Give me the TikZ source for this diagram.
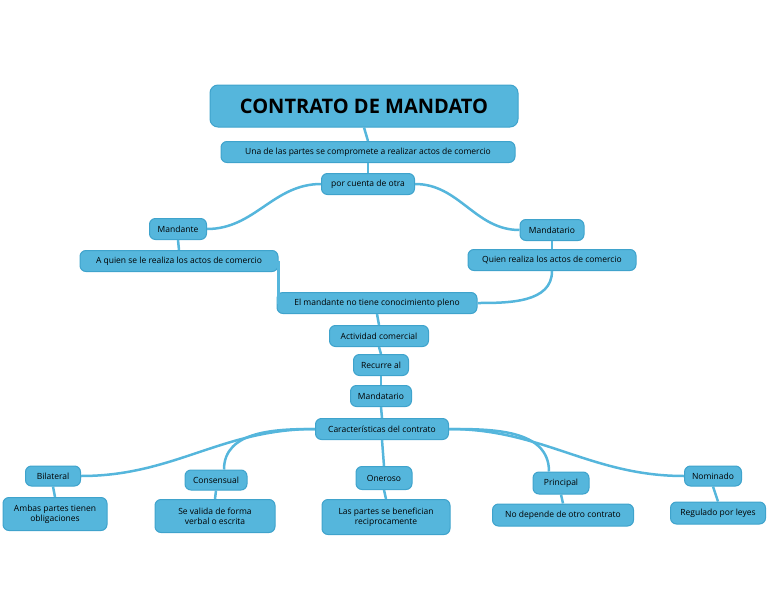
\documentclass[tikz,border=0pt]{standalone}
\usepackage{fontspec}
\setmainfont{Open Sans}
\definecolor{bx}{HTML}{55B6DC}
\definecolor{bd}{HTML}{3FA3CC}
\begin{document}
\begin{tikzpicture}[x=1pt,y=-1pt,
  bn/.style={draw=bd,fill=bx,rounded corners=6pt,line width=1pt,font=\fontsize{8.5}{10}\selectfont,inner xsep=6pt,minimum height=21pt,align=center},
  ln/.style={draw=bx,line width=2.5pt}]
\useasboundingbox (0,0) rectangle (768,594);
\node[bn,font=\fontsize{20}{22}\selectfont\bfseries,minimum width=308pt,minimum height=42pt,rounded corners=8pt] (t) at (364,106) {CONTRATO DE MANDATO};
\node[bn,minimum width=294pt] (u) at (368,152) {Una de las partes se compromete a realizar actos de comercio};
\node[bn,minimum width=93pt] (p) at (368,184) {por cuenta de otra};
\node[bn,minimum width=57pt] (ma) at (178,229) {Mandante};
\node[bn,minimum width=198pt] (aq) at (179,261) {A quien se le realiza los actos de comercio};
\node[bn,minimum width=64pt] (mr) at (552,230) {Mandatario};
\node[bn,minimum width=168pt] (qr) at (552,260) {Quien realiza los actos de comercio};
\node[bn,minimum width=200pt] (el) at (377,303) {El mandante no tiene conocimiento pleno};
\node[bn,minimum width=99pt] (ac) at (379,336) {Actividad comercial};
\node[bn,minimum width=55pt] (re) at (381,365) {Recurre al};
\node[bn,minimum width=61pt] (m2) at (381,396) {Mandatario};
\node[bn,minimum width=133pt] (ca) at (382,429) {Características del contrato};
\node[bn,minimum width=55pt,minimum height=20pt] (b1) at (53,476) {Bilateral};
\node[bn,minimum width=104pt,minimum height=33pt] (b2) at (55,514) {Ambas partes tienen\\obligaciones};
\node[bn,minimum width=62pt,minimum height=20pt] (c1) at (216,480) {Consensual};
\node[bn,minimum width=120pt,minimum height=33pt] (c2) at (215,516) {Se valida de forma\\verbal o escrita};
\node[bn,minimum width=56pt,minimum height=23pt] (o1) at (384,478) {Oneroso};
\node[bn,minimum width=128pt,minimum height=35pt] (o2) at (386,517) {Las partes se benefician\\reciprocamente};
\node[bn,minimum width=56pt,minimum height=22pt] (p1) at (561,483) {Principal};
\node[bn,minimum width=141pt,minimum height=22pt] (p2) at (563,515) {No depende de otro contrato};
\node[bn,minimum width=57pt,minimum height=20pt] (n1) at (713,476) {Nominado};
\node[bn,minimum width=95pt,minimum height=22pt] (n2) at (718,513) {Regulado por leyes};
\begin{scope}[on background layer/.style={}]
\end{scope}
\begin{pgfonlayer}{main}\end{pgfonlayer}
\draw[ln] (t.south) -- (u.north);
\draw[ln] (u.south) -- (p.north);
\draw[ln] (p.west) to[out=180,in=0] (ma.east);
\draw[ln] (p.east) to[out=0,in=180] (mr.west);
\draw[ln] (ma.south) -- (aq.north);
\draw[ln] (mr.south) -- (qr.north);
\draw[ln] (aq.east) -- ++(0,0) |- (el.west);
\draw[ln] (qr.south) to[out=-90,in=0] (el.east);
\draw[ln] (el.south) -- (ac.north);
\draw[ln] (ac.south) -- (re.north);
\draw[ln] (re.south) -- (m2.north);
\draw[ln] (m2.south) -- (ca.north);
\draw[ln] (ca.west) to[out=180,in=0] (b1.east);
\draw[ln] (ca.west) to[out=180,in=90] ([xshift=8pt]c1.north);
\draw[ln] (ca.south) -- (o1.north);
\draw[ln] (ca.east) to[out=0,in=90] ([xshift=-12pt]p1.north);
\draw[ln] (ca.east) to[out=0,in=180] (n1.west);
\draw[ln] (b1.south) -- (b2.north);
\draw[ln] (c1.south) -- (c2.north);
\draw[ln] (o1.south) -- (o2.north);
\draw[ln] (p1.south) -- (p2.north);
\draw[ln] (n1.south) -- (n2.north);
\foreach \n in {t,u,p,ma,aq,mr,qr,el,ac,re,m2,ca,b1,b2,c1,c2,o1,o2,p1,p2,n1,n2}{}
\end{tikzpicture}
\end{document}
